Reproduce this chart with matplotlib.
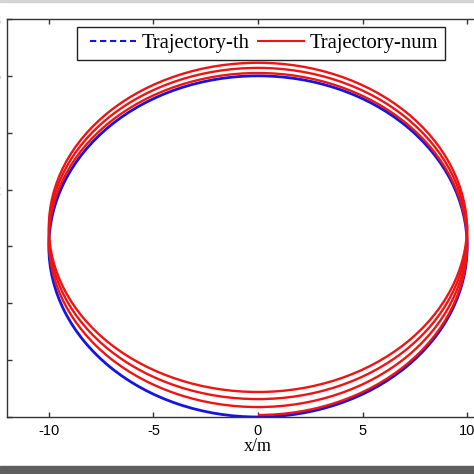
import matplotlib.pyplot as plt
from matplotlib.patches import Arc, Rectangle
from matplotlib.lines import Line2D
from matplotlib.legend_handler import HandlerLine2D

# half width of the orbit (x/m)
orbit_x = [-10.0, 10.0]
# theoretical orbit: lowest and highest y
th_extremes_y = [-6.0, 6.0]
# numerical orbit: y at each bottom / top turn
num_extremes_y = [-5.93, 6.10, -5.65, 6.28, -5.37, 6.46, -5.12, 6.64]
# the numerical run stops at the right-hand side on its last turn (degrees)
num_end_angle = 0

x_ticks = [-10, -5, 0, 5, 10]
y_ticks = [-6, -4, -2, 0, 2, 4, 6, 8]

RED = '#ee1414'
BLUE = '#1515dd'

fig = plt.figure(figsize=(4.74, 4.74), dpi=100)
W = H = 474.0
ax = fig.add_axes([7 / W, (H - 417) / H, 502 / W, 398 / H])

width = orbit_x[1] - orbit_x[0]
xc = (orbit_x[0] + orbit_x[1]) / 2

# theoretical trajectory
b0, t0 = th_extremes_y
ax.add_patch(Arc((xc, (b0 + t0) / 2), width, t0 - b0, theta1=0, theta2=360,
                 color=BLUE, lw=2.0, zorder=2))

# numerical trajectory: right half going up, left half going down
n = len(num_extremes_y) - 1
for i in range(n):
    y0, y1 = num_extremes_y[i], num_extremes_y[i + 1]
    lo, hi = min(y0, y1), max(y0, y1)
    if y1 > y0:
        th1, th2 = -90, 90
    else:
        th1, th2 = 90, 270
    if i == n - 1:
        th2 = num_end_angle
    ax.add_patch(Arc((xc, (lo + hi) / 2), width, hi - lo, theta1=th1, theta2=th2,
                     color=RED, lw=1.7, zorder=3))

ax.set_xlim(-12, 12)
ax.set_ylim(-6, 8)
ax.set_xticks(x_ticks)
ax.set_yticks(y_ticks)
ax.set_xticklabels([str(v) for v in x_ticks], family='Liberation Sans', fontsize=10.5)
ax.set_yticklabels([str(v) for v in y_ticks], family='Liberation Sans', fontsize=10.5, color='#999999')
ax.tick_params(direction='in', length=3.5, width=1, top=True, right=True, pad=5,
               color='#333333')
for s in ax.spines.values():
    s.set_color('#333333')
    s.set_linewidth(1.0)
ax.set_xlabel('x/m', family='Liberation Serif', fontsize=13, labelpad=0)

h_th = Line2D([], [], color=BLUE, lw=1.5, dashes=(3, 1.8))
h_num = Line2D([], [], color=RED, lw=1.5)
leg = fig.legend([h_th, h_num], ['Trajectory-th', 'Trajectory-num'], ncol=2,
                 loc='upper right', bbox_to_anchor=(445 / W, 1 - 27 / H),
                 bbox_transform=fig.transFigure, borderaxespad=0,
                 prop={'family': 'Liberation Serif', 'size': 14.9},
                 handlelength=2.5, handletextpad=0.3, columnspacing=0.1,
                 borderpad=0.32, fancybox=False, framealpha=1, edgecolor='#222222',
                 handler_map={Line2D: HandlerLine2D(xpad=0.3)})
leg.get_frame().set_linewidth(1.0)

# grey bands of the original screenshot
fig.patches.append(Rectangle((0, 1 - 2 / H), 1, 2 / H, transform=fig.transFigure,
                             color='#d4d4d4', zorder=10))
fig.patches.append(Rectangle((0, 0), 1, 8 / H, transform=fig.transFigure,
                             color='#5f5f5f', zorder=10))

fig.savefig('out.png', dpi=100)
